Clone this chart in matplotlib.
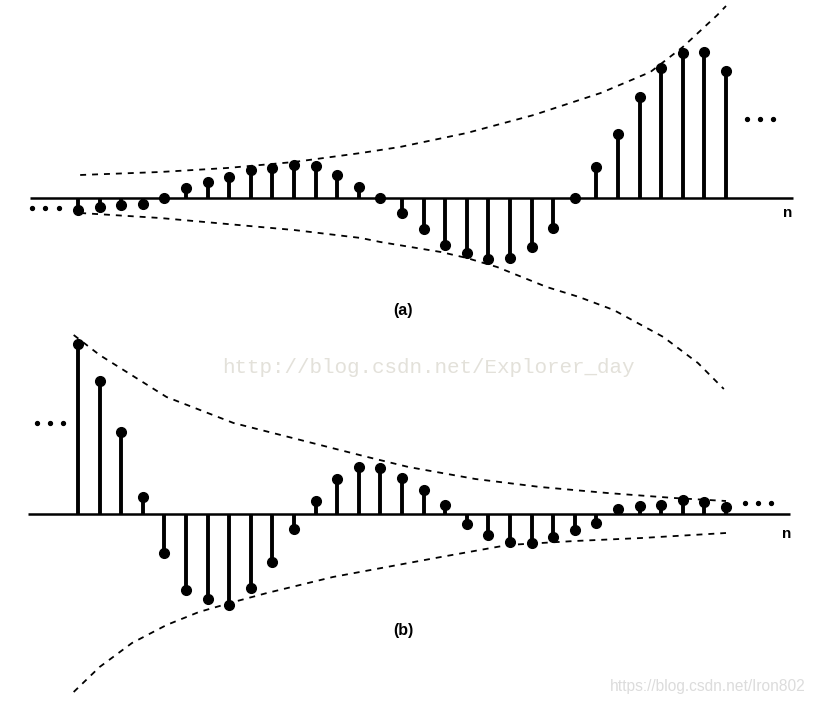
import matplotlib
matplotlib.use('Agg')
import matplotlib.pyplot as plt
import numpy as np

# sample index
n = np.arange(31)

# (a) growing oscillation, amplitude (pixels above baseline)
xa = [-12, -9, -7, -6, 0, 10, 16, 21, 28, 30, 33, 32, 23, 11, 0, -15,
      -31, -47, -55, -61, -60, -49, -30, 0, 31, 64, 101, 130, 145, 146, 127]
# envelope of (a)
env_a_up_n = [0.1, 3.8, 6.9, 10.0, 13.1, 14.9, 18.0, 21.1, 24.2, 26.5, 28.0, 29.6, 30.0]
env_a_up = [23, 26, 30, 36, 45, 51, 65, 83, 105, 126, 151, 183, 192]
env_a_lo_n = [0.1, 3.8, 6.9, 10.0, 13.1, 14.0, 16.8, 18.0, 19.4, 21.7, 23.2, 24.8, 27.1, 28.7, 29.9]
env_a_lo = [-15, -20, -26, -32, -40, -44, -54, -60, -69, -89, -99, -112, -139, -165, -191]

# (b) decaying oscillation
xb = [170, 133, 82, 17, -39, -76, -85, -91, -74, -48, -15, 13, 35, 47, 46, 36,
      24, 9, -10, -21, -28, -29, -23, -16, -9, 5, 8, 9, 14, 12, 7]
env_b_up_n = [-0.2, 1.0, 4.1, 7.2, 10.3, 13.4, 15.3, 18.4, 21.4, 24.5, 27.6, 30.0]
env_b_up = [179, 159, 117, 91, 74, 57, 47, 35, 27, 21, 16, 13]
env_b_lo_n = [-0.2, 1.0, 2.5, 4.1, 5.6, 7.2, 8.75, 11.8, 15.3, 16.8, 19.9, 23.0, 26.1, 30.0]
env_b_lo = [-178, -153, -129, -111, -98, -88, -79, -63, -49, -43, -31, -27, -24, -19]

fig = plt.figure(figsize=(8.16, 7.04), dpi=100)
ax_a = fig.add_axes([0, 0.5, 1, 0.5])
ax_b = fig.add_axes([0, 0, 1, 0.5])

def draw_panel(ax, vals, up_n, up, lo_n, lo, base, dots_l, dots_r, label, ylim):
    ax.set_xlim(-3.611, 34.167)
    ax.set_ylim(*ylim)
    ax.axis('off')
    ax.plot(base, [0, 0], color='black', lw=1.8, solid_capstyle='butt', clip_on=False)
    ax.vlines(n, 0, vals, color='black', lw=2.8, clip_on=False)
    ax.plot(n, vals, 'o', color='black', ms=7, clip_on=False)
    ax.plot(up_n, up, color='black', lw=1.3, dashes=(3.3, 3.3), clip_on=False)
    ax.plot(lo_n, lo, color='black', lw=1.3, dashes=(3.3, 3.3), clip_on=False)
    for d in (dots_l, dots_r):
        ax.plot(d[0], [d[1]] * 3, 'o', color='black', ms=2.8, clip_on=False)
    ax.text(label[0], label[1], label[2], ha='center', va='center', fontsize=11.5,
            fontweight='bold', family='Liberation Sans')
    ax.text(label[3], label[4], 'n', ha='center', va='center', fontsize=11,
            fontweight='bold', family='Liberation Sans')

draw_panel(ax_a, xa, env_a_up_n, env_a_up, env_a_lo_n, env_a_lo, [-2.22, 33.1],
           ([-2.13, -1.53, -0.88], -10), ([30.97, 31.57, 32.18], 79),
           (15.05, -112, '(a)', 32.87, -15), (-154, 198))
draw_panel(ax_b, xb, env_b_up_n, env_b_up, env_b_lo_n, env_b_lo, [-2.31, 32.96],
           ([-1.90, -1.30, -0.69], 91), ([30.88, 31.48, 32.08], 11),
           (15.05, -116, '(b)', 32.82, -20), (-190, 162))

# watermarks
fig.text(428 / 816, 1 - 367 / 704, 'http://blog.csdn.net/Explorer_day', ha='center', va='center',
         fontsize=15, color='#e3e1da', family='Liberation Mono')
fig.text(806 / 816, 1 - 686 / 704, 'https://blog.csdn.net/Iron802', ha='right', va='center',
         fontsize=11.2, color='#dcdcdc', family='Liberation Sans')

fig.savefig('out.png', dpi=100)
